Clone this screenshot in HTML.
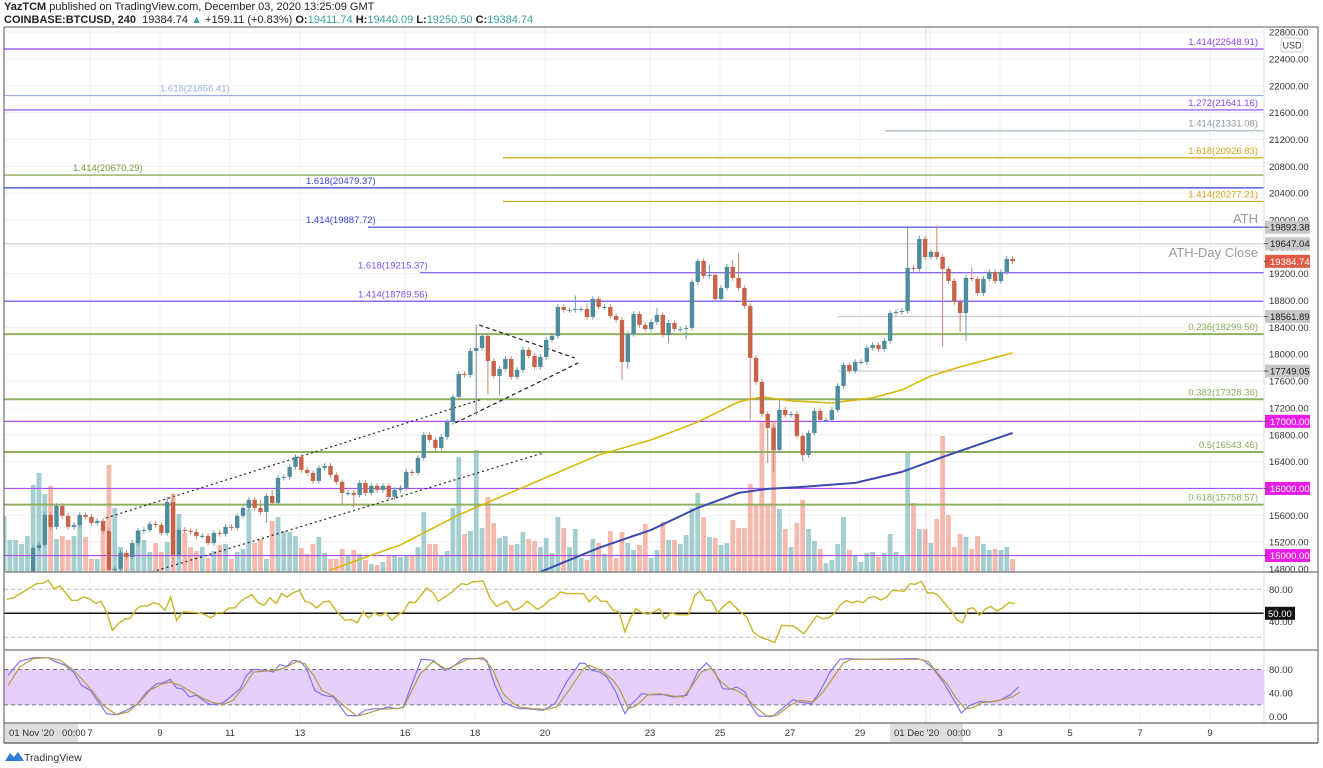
<!DOCTYPE html>
<html><head><meta charset="utf-8"><style>
html,body{margin:0;padding:0;background:#fff;}
body{width:1323px;height:768px;overflow:hidden;position:relative;font-family:"Liberation Sans",sans-serif;}
.hdr{position:absolute;left:4px;font-size:11px;color:#222;white-space:nowrap;}
.v{color:#3aa39a;}
</style></head><body>
<div class="hdr" style="top:1px;"><b>YazTCM</b> published on TradingView.com, December 03, 2020 13:25:09 GMT</div>
<div class="hdr" style="top:14px;"><b>COINBASE:BTCUSD, 240</b>&nbsp; 19384.74 <span class="v">▲</span> +159.11 (+0.83%) <b>O:</b><span class="v">19411.74</span> <b>H:</b><span class="v">19440.09</span> <b>L:</b><span class="v">19250.50</span> <b>C:</b><span class="v">19384.74</span></div>
<svg id="chart" width="1323" height="768" style="position:absolute;left:0;top:0" xmlns="http://www.w3.org/2000/svg"></svg>
<script>
// ---------- DATA ----------
const closes = [13800,13950,14100,14300,14600,
15110,15160,15605,15427,15740,15591,15427,15456,15605,15576,
15486,15516,15367,14786,14801,15039,14980,15188,15367,15382,
15471,15456,15337,15799,15009,15382,15367,15352,15293,15293,
15188,15337,15322,15427,15412,15591,15710,15829,15710,15650,
15889,15784,16157,16172,16321,16470,16276,16231,16112,16306,
16336,16202,16097,15933,15933,15904,16082,15933,16038,15978,
16038,15874,15978,16008,16246,16231,16455,
16798,16723,16604,16768,16991,17364,17706,17692,18049,18094,
18273,17900,17677,17781,17930,17662,17766,18064,17975,17811,
17960,18213,18273,18705,18660,18660,18675,18675,18556,18824,
18705,18705,18571,18511,17885,18302,18600,18436,18377,18481,
18585,18287,18466,18377,18377,18392,19077,19390,19167,19181,
18824,18988,19301,19137,18988,18720,17945,17587,17110,16902,
16574,17170,17095,17110,16783,16499,16827,17155,17021,17021,
17170,17528,17840,17751,17885,17885,18094,18138,18079,18198,
18615,18630,18645,19286,19271,19718,19450,19524,19450,19271,
19092,18779,18615,19137,19122,18913,19122,19226,19092,19226,
19420,19385];
const hiExt = [40,40,40,40,40,40,40,40,40,40, 40,40,40,40,40,40,40,40,40,40,
40,40,40,40,40,40,40,40,75,130, 40,40,40,40,40,40,40,40,40,40,
40,40,40,40,120,40,90,40,40,40, 40,40,40,40,40,40,40,40,40,40,
40,40,40,40,40,40,40,40,40,40, 40,40,40,40,40,40,40,40,40,40,
40,350,40,40,40,40,40,40,40,40, 40,40,40,40,40,40,40,40,200,40,
80,40,40,40,40,40,40,40,40,40, 40,40,100,40,40,40,40,40,40,40,
40,150,40,40,40,100,370,40,40,40, 40,40,40,150,40,40,40,40,40,40,
40,40,40,40,40,40,40,40,40,40, 40,40,40,40,40,600,40,50,40,40,
390,40,40,40,40,40,160,40,40,40, 40,40,40,40];
const loExt = [40,40,40,40,40,40,40,40,40,40, 40,40,40,40,40,40,40,40,40,40,
40,40,40,40,40,40,40,40,40,120, 40,40,40,40,40,40,40,40,40,40,
40,40,40,40,40,160,40,40,40,40, 40,40,40,40,40,40,40,40,180,40,
180,40,40,40,40,40,40,40,40,40, 40,40,40,40,40,40,40,40,40,40,
40,960,40,500,40,290,40,40,40,40, 40,40,40,40,40,40,40,40,40,40,
40,40,40,40,40,40,270,100,40,40, 40,40,40,40,120,40,40,150,40,40,
40,40,40,40,40,40,40,40,920,40, 40,520,320,40,40,40,40,90,40,40,
40,40,40,40,40,40,40,40,40,40, 40,40,40,40,40,40,40,40,40,40,
40,1160,40,40,285,415,40,40,40,40, 40,40,40,40];
const volumes = [56,32,32,28,36,87,99,78,86,33, 36,32,36,57,35,13,13,41,107,64,
25,18,28,42,32,20,29,20,30,78, 58,39,25,21,25,14,21,27,28,13,
20,23,63,29,33,13,51,55,41,40, 36,24,18,28,35,19,13,13,23,17,
22,18,12,8,7,10,17,16,15,16, 16,25,60,28,28,16,21,64,115,38,
41,122,44,75,49,34,36,27,28,40, 33,31,25,34,19,55,44,25,43,14,
12,33,29,18,41,14,40,29,22,27, 48,14,22,50,32,32,28,37,64,79,
55,35,34,27,29,52,44,44,88,68, 150,68,150,63,43,25,49,72,43,31,
23,9,12,28,55,22,16,10,19,20, 15,19,38,20,17,119,69,43,43,29,
53,136,57,25,38,35,23,36,28,22, 23,22,25,13];
const ma1Idx = [56,68,78,92,102,111,119,126,130,135,142,149,154,159,164,173];
const ma1Val = [14786,15159,15606,16127,16500,16723,16991,17289,17364,17304,17274,17349,17468,17677,17811,18020];
const ma2Idx = [92,102,111,119,126,131,137,146,154,162,173];
const ma2Val = [14756,15114,15382,15710,15933,15993,16023,16082,16246,16500,16828];
const rsiIdx = [0.5,1.6,3.3,5.6,6.5,7.6,8.6,9.6,11.6,12.6,13.6,14.6,15.8,16.6,17.6,18.6,19.6,20.8,21.6,22.8,23.6,24.6,25.6,26.6,27.6,28.6,29.6,30.7,33.1,34.3,35.5,36.6,37.6,38.6,39.6,40.6,41.6,42.5,43.6,44.6,45.6,46.7,47.6,48.6,49.6,50.7,51.6,52.6,53.6,54.8,55.8,56.9,58.5,59.6,60.6,61.6,62.5,63.5,64.5,65.5,66.5,67.6,68.5,69.5,70.5,72.5,73.6,74.5,76.5,78.5,79.4,80.4,82.2,83.4,84.5,86.3,87.4,88.5,89.7,91.5,92.5,93.7,94.5,95.4,96.5,99.4,100.4,101.4,102.4,103.4,104.5,105.5,106.5,107.4,108.4,109.4,110.5,111.4,112.4,113.4,114.4,115.4,117.4,118.5,119.4,120.4,121.3,122.4,123.3,124.4,126.2,127.4,128.5,129.7,131.3,132.2,133.4,135.4,137.2,139.4,140.4,141.4,142.5,143.4,144.5,145.4,146.4,147.4,148.3,149.4,150.4,151.4,152.4,154.4,155.4,156.3,157.4,158.4,159.3,160.1,162.6,163.4,164.4,165.4,166.3,167.3,168.3,169.2,170.3,171.3,172.3,173.4];
const rsiVal = [67.5,69.2,76.7,87.1,87.1,91.3,80.8,84.2,66.3,66.3,70.4,68.3,62.1,65,51.7,28.8,37.1,43.3,43.3,55.8,59.2,59.2,63.3,61.3,53.8,70.4,41.3,51.7,50.8,48.8,44.2,50.8,50.8,56.7,56.7,65,69.6,73.3,63.3,60,69.2,62.1,74.6,70.4,75.8,78.8,65,62.9,56.7,64.2,65.4,53.8,41.3,42.1,38.3,51.7,44.2,50.8,46.7,50.8,41.3,48.3,51.7,64.2,63.3,81.7,75.8,65,74.6,87.1,85.8,89.2,90.4,68.3,58.8,65.4,53.8,56.7,65,55,59.2,67.5,69.2,76.7,74.6,74.6,64.2,71.7,65,65,53.8,51.7,26.7,43.3,55.8,50.8,48.8,51.7,55.8,43.3,50.8,48.3,48.3,72.5,77.5,66.3,66.3,50.8,57.9,65,52.5,45.4,26.7,20.4,16.3,13.3,35,34.2,24.6,46.7,43.3,44.2,50.4,60,66.3,62.9,65.4,63.3,69.6,70.8,66.7,70.4,78.8,77.5,87.1,86.3,90,75.4,75.8,73.3,51.7,42.1,38.3,55.8,56.7,47.5,55,58.8,52.9,56.7,63.3,62.1];
const kIdx = [0.7,2.7,5,7.6,8.7,10.5,11.9,13.3,14.8,16.2,17.6,19.3,21,22.8,24.5,26.2,27.3,28.5,29.6,30.6,31.8,33,34.2,35.3,36.5,37.6,38.8,40.5,41.6,42.8,44.8,46.2,47.3,48.5,49.6,50.8,51.9,53.3,54.8,56.5,58.8,60.5,61.9,63.6,64.8,65.9,67.4,68.5,70.2,71.6,73.6,75.6,76.5,78.8,81.6,82.8,84.2,85.6,86.8,88.5,89.7,92.5,94.5,96.5,98.8,99.7,100.8,102.2,103.4,104.8,106.5,107.7,109.4,110.8,113.1,114.8,117.1,119,120.5,121.9,123.3,124.5,125.7,127.1,128.3,129.4,131.7,132.8,135.4,136.5,138.5,139.9,141.7,143.4,144.8,148,156.5,157.7,159.4,161.1,162.8,164.2,165.6,167.4,169.1,170.8,172.6,174];
const kVal = [70.1,93.8,100,100,93.8,87.1,75.8,53.2,44.7,24.9,5.1,3.4,10.8,20.9,41.8,56,57.7,63.3,48.6,47.5,33.4,36.2,27.7,20.9,20.9,23.8,33.4,47.5,70.1,80.3,78.6,75.8,88.2,85.4,95.6,93.8,81.4,44.7,36.2,33.4,2.3,1.2,10.8,13.6,13.6,16.4,13.6,16.4,61.6,97.3,95.6,78.6,81.4,98.4,98.4,95.6,53.2,24.9,19.2,13.6,13.6,10.8,22.1,58.8,91,90,78.6,75.8,67.3,44.7,5.1,22.1,39,37.3,37.3,33.4,36.2,75.8,91,75.8,47.5,46.4,50.3,41.8,16.4,1.2,0,8,29.4,24.9,22.1,41.8,75.8,97.3,98.4,97.3,98.4,95.6,81.4,58.8,30.5,6.3,19.2,26,24.9,27.7,37.3,50.3];
const dIdx = [0.7,2.7,5,7.6,9.6,11.6,13.3,15.3,17,19.3,21.3,23.3,25,26.8,28.5,30.2,32.2,34.2,35.9,37.6,39.3,41.1,42.8,45.1,46.8,48.5,50.2,51.6,53.1,54.5,56.5,58.2,60.5,62.2,64.5,66.8,68.5,71.4,73.6,75.9,78.2,79.4,82.2,83.9,85.6,87.4,88.5,90.8,93.1,94.8,97.1,99.4,100.4,101.7,102.8,104.5,105.7,107.1,108.5,110.5,112.5,114.8,116.5,117.9,119.6,121.3,123,124.5,125.7,127.4,128.5,130.8,132.6,134.8,136.5,138.8,140.5,142.3,144,145.4,150.8,157.1,158.5,160,161.7,163.4,164.8,166.2,167.6,169.7,171.4,172.9,174.3];
const dVal = [53.2,84.2,98.4,100,95.6,81.4,64.5,41.8,19.2,3.4,8,25,44.7,54.3,58.8,53.2,41.8,30.5,23.8,20.9,27.7,50.3,75.8,77.5,78.6,84.2,93.8,90,70.1,44.7,35,19.2,1.2,5.1,12.5,13.6,15.3,72.9,93.8,80.3,91,97.3,100,78.6,39,22.1,16.4,13.6,12.5,16.4,47.5,81.4,87.1,81.4,75.8,61.6,44.7,13.6,19.2,37.3,39,35,33.4,50.3,75.8,82.5,58.8,47.5,44.7,33.4,19.2,1.2,2.3,19.2,27.7,24.9,41.8,67.3,91,97.3,97.3,97.3,93.8,75.8,56,30.5,13.6,15.3,23.8,26,29.4,33.4,41.8];
const priceTicks = [22800,22400,22000,21600,21200,20800,20400,20000,19600,19200,18800,18400,18000,17600,17200,16800,16400,16000,15600,15200,14800];
const dayLabels = ["7","9","11","13","16","18","20","23","25","27","29","3","5","7","9"];
const dayNums = [6,8,10,12,15,17,19,22,24,26,28,32,34,36,38];
const levelPrices = [22548.91,21856.41,21641.16,21331.08,20926.83,20670.29,20479.37,20277.21,19893.38,19647.04,19215.37,18789.56,18561.89,18299.50,17749.05,17328.36,17000,16543.46,16000,15758.57,15000];
const levelLabels = ["1.414(22548.91)","1.618(21856.41)","1.272(21641.16)","1.414(21331.08)","1.618(20926.83)","1.414(20670.29)","1.618(20479.37)","1.414(20277.21)","1.414(19887.72)","","1.618(19215.37)","1.414(18789.56)","","0.236(18299.50)","","0.382(17328.36)","","0.5(16543.46)","","0.618(15758.57)",""];
const tagPrices = [19893.38,19647.04,19384.74,18561.89,17749.05,17000,16000,15000];
const levelStyle = [
 ["#8e44f0",4,"r"],["#9fb0df",4,"l",160],["#8e44f0",4,"r"],["#aab8c0",885,"r"],["#d4a514",503,"r"],
 ["#7a9a3a",4,"l",73],["#3a44e0",4,"l",306],["#d4a514",503,"r"],["#3a44e0",368,"l",306],["#d0d0d0",4,""],
 ["#7b52f5",420,"l",358],["#7b52f5",4,"l",358],["#c8c8c8",838,""],["#8fb060",4,"r"],["#c8c8c8",838,""],
 ["#8fb060",4,"r"],["#b04cff",4,""],["#8fb060",4,"r"],["#b04cff",4,""],["#8fb060",4,"r"],["#b04cff",4,""]];
const tagStyle = [["#c8c8c8","#222"],["#c8c8c8","#222"],["#e05a45","#fff"],["#c8c8c8","#222"],["#c8c8c8","#222"],["#e81ee8","#fff"],["#e81ee8","#fff"],["#e81ee8","#fff"]];

// ---------- SCALES ----------
const L=4, R=1264, MT=27, MB=572;
const Y = p => 59 + (22400-p)*0.0671;
const X = i => 4 + i*5.83;
const XD = d => -120 + d*35;
const RY = v => 589.3 + (80-v)*0.8;
const SY = v => 716.7 - v*0.59;
const VY = v => 572 - v;

const svg = document.getElementById('chart');
const NS = 'http://www.w3.org/2000/svg';
function mk(tag, attrs, parent){const e=document.createElementNS(NS,tag);for(const k in attrs)e.setAttribute(k,attrs[k]);(parent||svg).appendChild(e);return e;}
function txt(s, attrs, parent){const e=mk('text',attrs,parent);e.textContent=s;return e;}

const defs = mk('defs',{});
const cp = mk('clipPath',{id:'mainclip'},defs); mk('rect',{x:L,y:MT,width:R-L,height:MB-MT},cp);
const cp2 = mk('clipPath',{id:'lowclip'},defs); mk('rect',{x:L,y:MB,width:R-L,height:723-MB},cp2);

const grid = mk('g',{stroke:'#f1f1f1','stroke-width':1});


priceTicks.forEach(p=>mk('line',{x1:L,x2:R,y1:Y(p),y2:Y(p)},grid));
dayNums.concat([0,30]).forEach(d=>mk('line',{x1:XD(d),x2:XD(d),y1:MT,y2:723},grid));
mk('line',{x1:926,x2:926,y1:MT,y2:723,stroke:'#dcdcdc'},svg);

const main = mk('g',{'clip-path':'url(#mainclip)'});



const vg = mk('g',{},main);


volumes.forEach((v,i)=>{
  const o = i>0?closes[i-1]:closes[0]-100, up = closes[i]>=o;
  const r = mk('rect',{x:X(i)-2.4,y:VY(v),width:4.8,height:v,fill:up?'rgba(90,165,170,0.55)':'rgba(236,128,108,0.55)'},vg);
  
  
});

levelPrices.forEach((p,k)=>{
  const [c,x0,pos,lx]=levelStyle[k];
  const y=Y(p);
  const ln = mk('line',{x1:x0,x2:R,y1:y,y2:y,stroke:c,'stroke-width':(c==='#8fb060'?2:1.2)},main);
  
  
  if(levelLabels[k]){
    const t = txt(levelLabels[k],{x:pos==='r'?1258:lx,y:y-4,'font-size':9.5,fill:c==='#8fb060'?'#8aad5a':(c==='#aab8c0'?'#8a96a0':c),'text-anchor':pos==='r'?'end':'start'},main);
    
    
  }
});
const ath = txt('ATH',{x:1258,y:223,'font-size':13,fill:'#9a9a9a','text-anchor':'end'},main);


const athd = txt('ATH-Day Close',{x:1258,y:257,'font-size':13,fill:'#9a9a9a','text-anchor':'end'},main);



function pathFrom(ix, vals, yf){return ix.map((i,k)=>(k?'L':'M')+X(i).toFixed(1)+','+yf(vals[k]).toFixed(1)).join('');}
const m1 = mk('path',{d:pathFrom(ma1Idx,ma1Val,Y),fill:'none',stroke:'#d6b600','stroke-width':1.5},main);


const m2 = mk('path',{d:pathFrom(ma2Idx,ma2Val,Y),fill:'none',stroke:'#3d4ab0','stroke-width':2},main);



const trendA = [17.5,15561,81.6,17319], trendB=[25.4,14756,92.5,16529], triU=[81.5,18436,97.9,17945], triL=[77.4,16976,98.5,17870];
[[trendA,'2,3','channel-upper'],[trendB,'2,3','channel-lower'],[triU,'4,3','triangle-upper'],[triL,'4,3','triangle-lower']].forEach(([t,da,n])=>{
  const l = mk('line',{x1:X(t[0]),y1:Y(t[1]),x2:X(t[2]),y2:Y(t[3]),stroke:'#222','stroke-width':1.2,'stroke-dasharray':da},main);
  
  
});

const cg = mk('g',{},main);


closes.forEach((c,i)=>{
  const o = i>0?closes[i-1]:c-100, up=c>=o;
  const col = up?'#4f8c9e':'#c8634a';
  const top=Math.max(o,c), bot=Math.min(o,c);
  const w = mk('line',{x1:X(i),x2:X(i),y1:Y(top+hiExt[i]),y2:Y(bot-loExt[i]),stroke:up?'#6f9aa6':'#c58a70','stroke-width':1},cg);
  
  
  const b = mk('rect',{x:X(i)-2.2,y:Y(top),width:4.4,height:Math.max(1,Y(bot)-Y(top)),fill:col},cg);
  
  
});

const low = mk('g',{'clip-path':'url(#lowclip)'});


[80,20].forEach(v=>mk('line',{x1:L,x2:R,y1:RY(v),y2:RY(v),stroke:'#bbb','stroke-dasharray':'4,3'},low));
const rl = mk('line',{x1:L,x2:R,y1:RY(50),y2:RY(50),stroke:'#111','stroke-width':1.5},low);


const rp = mk('path',{d:pathFrom(rsiIdx,rsiVal,RY),fill:'none',stroke:'#c9b52a','stroke-width':1.4},low);


const band = mk('rect',{x:L,y:SY(80),width:R-L,height:SY(20)-SY(80),fill:'#e7cffb'},low);


[80,20].forEach(v=>mk('line',{x1:L,x2:R,y1:SY(v),y2:SY(v),stroke:'#777','stroke-dasharray':'4,3'},low));
const kp = mk('path',{d:pathFrom(kIdx,kVal,SY),fill:'none',stroke:'#7f74f2','stroke-width':1.2},low);


const dp = mk('path',{d:pathFrom(dIdx,dVal,SY),fill:'none',stroke:'#b59a4a','stroke-width':1.2},low);



mk('line',{x1:L,x2:1318,y1:MT,y2:MT,stroke:'#555'});
mk('line',{x1:L,x2:L,y1:MT,y2:743,stroke:'#555'});
mk('line',{x1:1318,x2:1318,y1:MT,y2:743,stroke:'#555'});
mk('line',{x1:R,x2:R,y1:MT,y2:723,stroke:'#e0e0e0'});
mk('line',{x1:L,x2:1318,y1:MB,y2:MB,stroke:'#888','stroke-width':1.5});
mk('line',{x1:L,x2:1318,y1:650,y2:650,stroke:'#888','stroke-width':1.5});
mk('line',{x1:L,x2:1318,y1:723,y2:723,stroke:'#666','stroke-width':1.2});
mk('line',{x1:L,x2:1318,y1:743,y2:743,stroke:'#666','stroke-width':1.5});

const ax = mk('g',{'font-size':9.5,fill:'#333'});


priceTicks.forEach(p=>{const t=txt(p.toFixed(2),{x:1269,y:Y(p)+3.5},ax);});
const usd = mk('rect',{x:1281,y:38,width:22,height:14,fill:'#fff',stroke:'#ccc',rx:2});


txt('USD',{x:1292,y:48.5,'font-size':9,fill:'#333','text-anchor':'middle'});
tagPrices.forEach((p,k)=>{
  const y=Y(p);
  const g=mk('g',{});
  
  
  mk('rect',{x:1265,y:y-6.5,width:45,height:13,fill:tagStyle[k][0]},g);
  mk('line',{x1:1264,x2:1268,y1:y,y2:y,stroke:'#555'},g);
  txt(p.toFixed(2),{x:1270,y:y+3.5,'font-size':9.5,fill:tagStyle[k][1]},g);
});
[['80.00',RY(80)],['40.00',RY(40)],['80.00',SY(80)],['40.00',SY(40)],['0.00',SY(0)]].forEach(([s,y])=>{const t=txt(s,{x:1269,y:y+3.5,'font-size':9.5,fill:'#333'});});
const rt=mk('g',{});


mk('rect',{x:1265,y:RY(50)-6.5,width:30,height:13,fill:'#111'},rt);
txt('50.00',{x:1268,y:RY(50)+3.5,'font-size':9.5,fill:'#fff'},rt);

const tx = mk('g',{'font-size':9.5,fill:'#333','text-anchor':'middle'});


dayLabels.forEach((s,k)=>{const t=txt(s,{x:XD(dayNums[k]),y:736},tx);});
[[5,"01 Nov '20   00:00"],[890,"01 Dec '20   00:00"]].forEach(([x,s])=>{
  const g=mk('g',{});
  
  
  mk('rect',{x:x,y:724,width:73,height:18,fill:'#dedede'},g);
  txt(s,{x:x+4,y:736,'font-size':9.5,fill:'#333',style:'white-space:pre'},g);
});

const lg=mk('g',{});


mk('path',{d:'M5,761 L10,753 L14,757 L18,752 L24,761 Z',fill:'#2e7bd6'},lg);
txt('TradingView',{x:24,y:761,'font-size':10.5,fill:'#333'},lg);
</script>
</body></html>
